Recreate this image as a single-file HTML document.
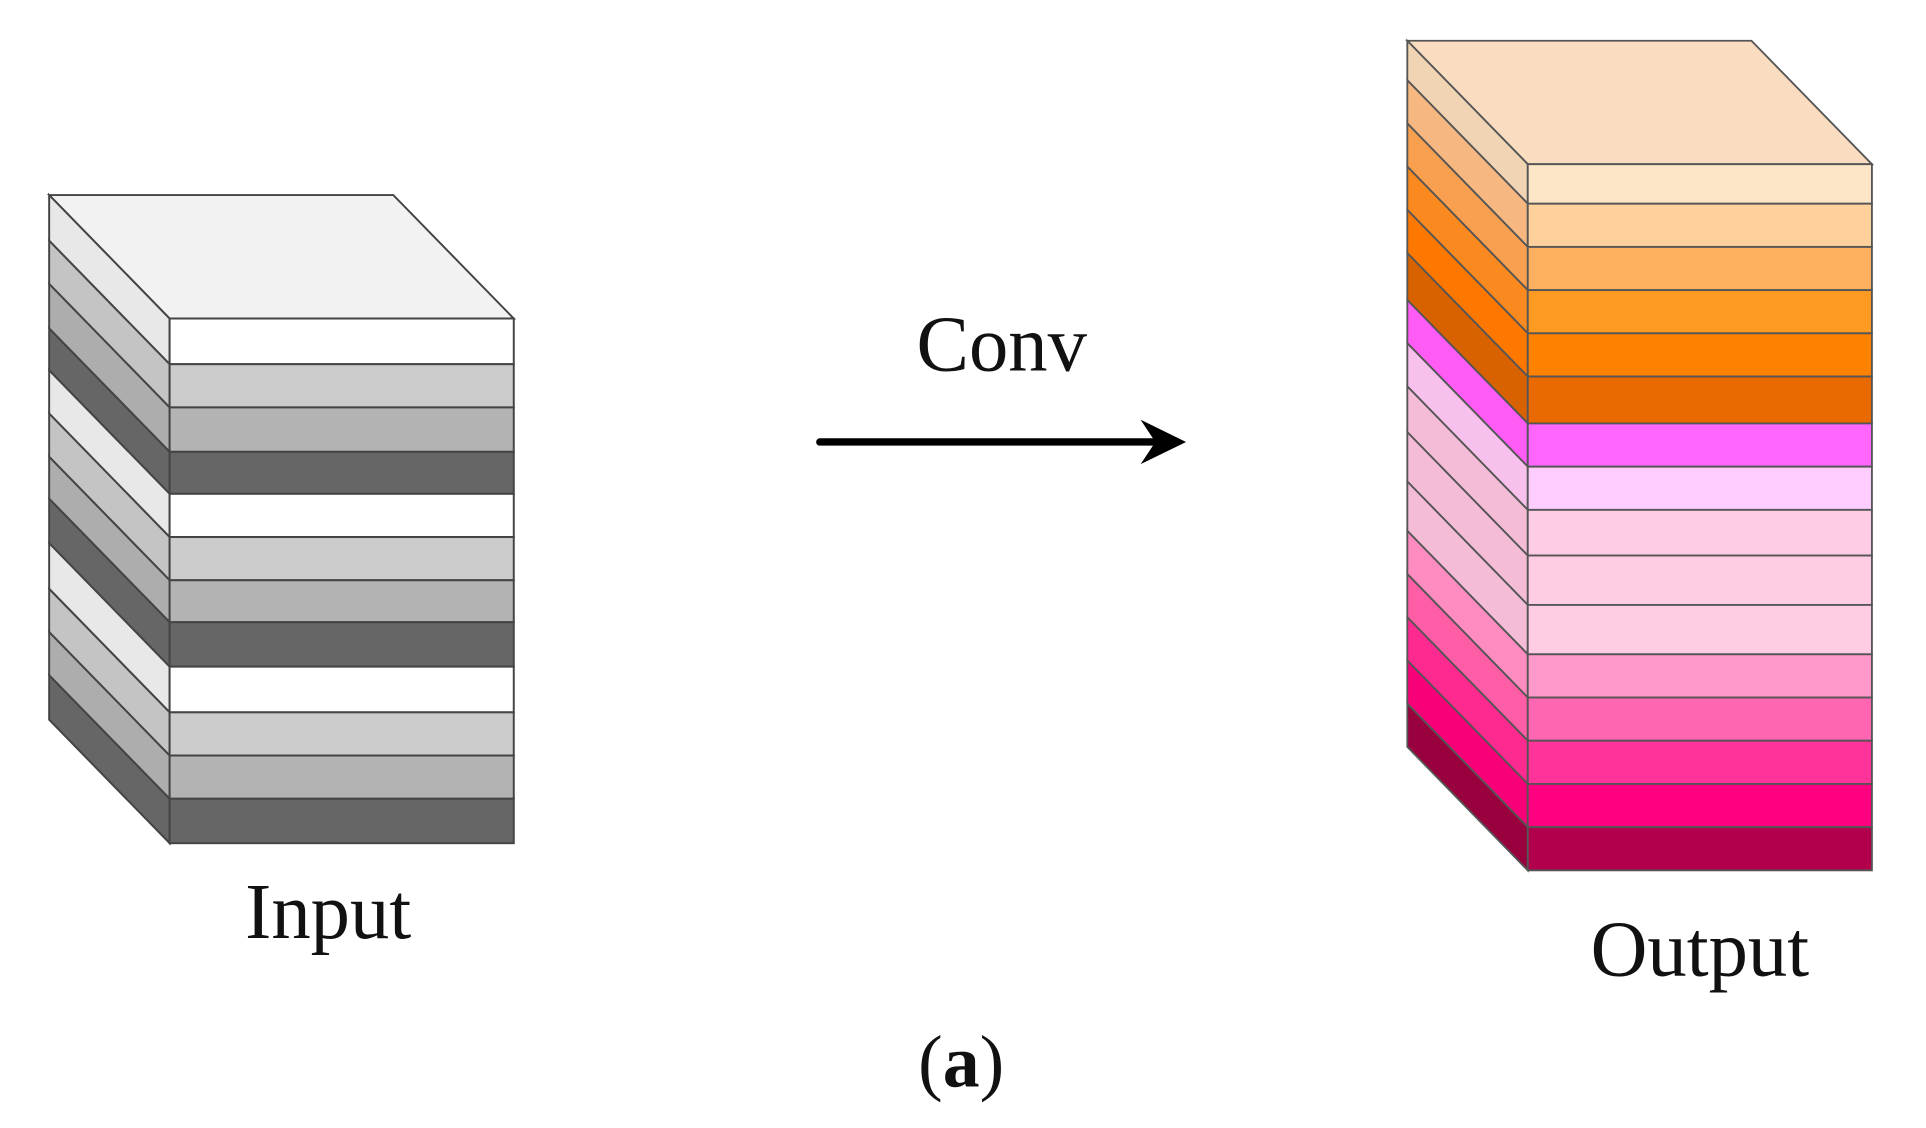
<!DOCTYPE html>
<html><head><meta charset="utf-8"><style>html,body{margin:0;padding:0;background:#fff;}svg{display:block}</style></head>
<body>
<svg width="1926" height="1128" viewBox="0 0 1567 913.7" preserveAspectRatio="none" xmlns="http://www.w3.org/2000/svg" font-family="Liberation Serif, serif">
<g stroke="#444" stroke-width="1.6">
<polygon points="40,158 320,158 418,258 138,258" fill="#f2f2f2"/>
<polygon points="40,158 138,258 138,295 40,195" fill="#e8e8e8"/><rect x="138" y="258" width="280" height="37" fill="#ffffff"/>
<polygon points="40,195 138,295 138,330 40,230" fill="#c4c4c4"/><rect x="138" y="295" width="280" height="35" fill="#cccccc"/>
<polygon points="40,230 138,330 138,366 40,266" fill="#adadad"/><rect x="138" y="330" width="280" height="36" fill="#b3b3b3"/>
<polygon points="40,266 138,366 138,400 40,300" fill="#666"/><rect x="138" y="366" width="280" height="34" fill="#666"/>
<polygon points="40,300 138,400 138,435 40,335" fill="#e8e8e8"/><rect x="138" y="400" width="280" height="35" fill="#fff"/>
<polygon points="40,335 138,435 138,470 40,370" fill="#c4c4c4"/><rect x="138" y="435" width="280" height="35" fill="#ccc"/>
<polygon points="40,370 138,470 138,504 40,404" fill="#adadad"/><rect x="138" y="470" width="280" height="34" fill="#b3b3b3"/>
<polygon points="40,404 138,504 138,540 40,440" fill="#666"/><rect x="138" y="504" width="280" height="36" fill="#666"/>
<polygon points="40,440 138,540 138,577 40,477" fill="#e8e8e8"/><rect x="138" y="540" width="280" height="37" fill="#fff"/>
<polygon points="40,477 138,577 138,612 40,512" fill="#c4c4c4"/><rect x="138" y="577" width="280" height="35" fill="#ccc"/>
<polygon points="40,512 138,612 138,647 40,547" fill="#adadad"/><rect x="138" y="612" width="280" height="35" fill="#b3b3b3"/>
<polygon points="40,547 138,647 138,683 40,583" fill="#666"/><rect x="138" y="647" width="280" height="36" fill="#666"/>
</g>
<g stroke="#555" stroke-width="1.5">
<polygon points="1145,33 1425,33 1523,133 1243,133" fill="#fadcc0"/>
<polygon points="1145,33 1243,133 1243,165 1145,65" fill="#f0d4b4"/><rect x="1243" y="133" width="280" height="32" fill="#fde5c8"/>
<polygon points="1145,65 1243,165 1243,200 1145,100" fill="#f6b880"/><rect x="1243" y="165" width="280" height="35" fill="#fdd09c"/>
<polygon points="1145,100 1243,200 1243,235 1145,135" fill="#f8a050"/><rect x="1243" y="200" width="280" height="35" fill="#fdb060"/>
<polygon points="1145,135 1243,235 1243,270 1145,170" fill="#fa8a20"/><rect x="1243" y="235" width="280" height="35" fill="#fd9a22"/>
<polygon points="1145,170 1243,270 1243,305 1145,205" fill="#fe7800"/><rect x="1243" y="270" width="280" height="35" fill="#fe8200"/>
<polygon points="1145,205 1243,305 1243,343 1145,243" fill="#d86200"/><rect x="1243" y="305" width="280" height="38" fill="#e86a00"/>
<polygon points="1145,243 1243,343 1243,378 1145,278" fill="#ff5cf5"/><rect x="1243" y="343" width="280" height="35" fill="#ff66ff"/>
<polygon points="1145,278 1243,378 1243,413 1145,313" fill="#f8c0ec"/><rect x="1243" y="378" width="280" height="35" fill="#ffccff"/>
<polygon points="1145,313 1243,413 1243,450 1145,350" fill="#f4bcd6"/><rect x="1243" y="413" width="280" height="37" fill="#ffcce6"/>
<polygon points="1145,350 1243,450 1243,490 1145,390" fill="#f4bcd6"/><rect x="1243" y="450" width="280" height="40" fill="#ffcce4"/>
<polygon points="1145,390 1243,490 1243,530 1145,430" fill="#f4bcd6"/><rect x="1243" y="490" width="280" height="40" fill="#ffcce4"/>
<polygon points="1145,430 1243,530 1243,565 1145,465" fill="#ff8cc0"/><rect x="1243" y="530" width="280" height="35" fill="#ff99cc"/>
<polygon points="1145,465 1243,565 1243,600 1145,500" fill="#ff5ea6"/><rect x="1243" y="565" width="280" height="35" fill="#ff66b2"/>
<polygon points="1145,500 1243,600 1243,635 1145,535" fill="#ff2a90"/><rect x="1243" y="600" width="280" height="35" fill="#ff3399"/>
<polygon points="1145,535 1243,635 1243,670 1145,570" fill="#f80078"/><rect x="1243" y="635" width="280" height="35" fill="#ff0080"/>
<polygon points="1145,570 1243,670 1243,705 1145,605" fill="#98003e"/><rect x="1243" y="670" width="280" height="35" fill="#b3004d"/>
</g>
<line x1="667" y1="358" x2="945" y2="358" stroke="#000" stroke-width="6" stroke-linecap="round"/>
<polygon points="928,340 965,358 928,376 940,358" fill="#000"/>
<text x="815" y="300" font-size="64" text-anchor="middle" fill="#111">Conv</text>
<text x="267" y="760" font-size="64" text-anchor="middle" fill="#111">Input</text>
<text x="1383" y="790" font-size="64" text-anchor="middle" fill="#111">Output</text>
<text x="782" y="880" font-size="60" text-anchor="middle" fill="#111">(<tspan font-weight="bold">a</tspan>)</text>
</svg>
</body></html>
